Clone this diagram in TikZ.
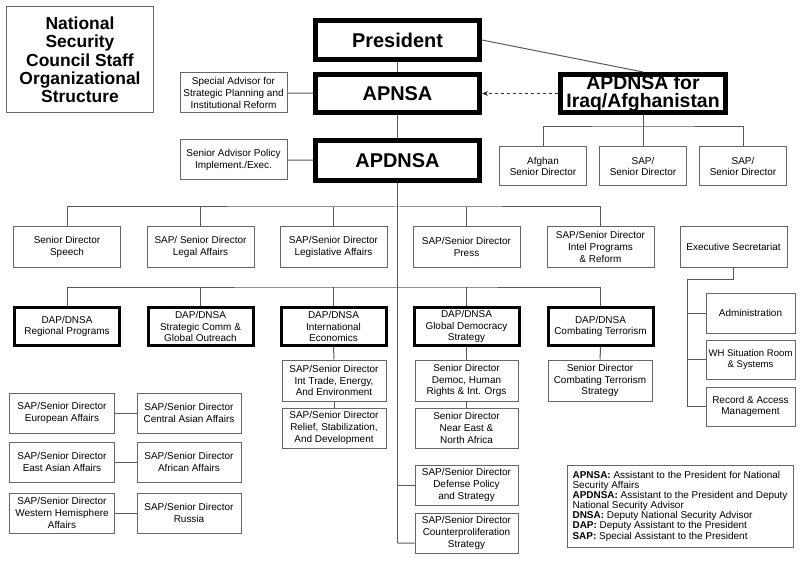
\documentclass[tikz,border=0pt]{standalone}
\usepackage{fontspec}
\setmainfont{Liberation Sans}
\usepackage{tikz}
\usetikzlibrary{arrows.meta, positioning}

\begin{document}
\begin{tikzpicture}[x=1bp, y=-1bp,
        % STYLES
        top/.style={rectangle, draw=black, line width=5bp, minimum width=164bp, minimum height=39bp, inner sep=0pt, align=center, font=\bfseries\fontsize{20}{18}\selectfont},
        dap/.style={rectangle, draw=black, line width=3bp, minimum width=105bp, minimum height=38bp, inner sep=1pt, align=center, font=\fontsize{10}{11.7}\selectfont},
        staff/.style={rectangle, draw=black!60, line width=1bp, minimum width=107bp, minimum height=40bp, inner sep=1pt, align=center, font=\fontsize{10}{11.7}\selectfont},
        % ARROWS
        link/.style={draw=black!65, line width=1bp},
        dashed_link/.style={-{Stealth[length=6bp, width=5bp]}, dashed, draw=black!80, line width=1bp}
    ]
    \useasboundingbox (0,0) rectangle (800,569);

    % ===================================
    % 1. Title and top offices
    % ===================================
    \node[staff, minimum width=146bp, minimum height=106bp, font=\bfseries\fontsize{17.5}{18.3}\selectfont] (title) at (80,60)
        {National\\Security\\Council Staff\\Organizational\\Structure};
    \node[top] (pres) at (397.5,40) {President};
    \node[top, minimum height=38bp] (apnsa) at (397.5,93.5) {APNSA};
    \node[top, minimum height=40bp] (apdnsa) at (397.5,160.5) {APDNSA};
    \node[top, minimum width=165bp, minimum height=38bp, font=\bfseries\fontsize{19.5}{19}\selectfont] (iraq) at (643,93.5) {APDNSA for\\Iraq/Afghanistan};

    % --- Advisors ---
    \node[staff] (sa1) at (233.5,93) {Special Advisor for\\Strategic Planning and\\Institutional Reform};
    \node[staff] (sa2) at (233.5,160) {Senior Advisor Policy\\Implement./Exec.};

    % --- Iraq/Afghanistan directors ---
    \node[staff, minimum width=87bp, minimum height=39bp] (ia1) at (543,166.5) {Afghan\\Senior Director};
    \node[staff, minimum width=87bp, minimum height=39bp] (ia2) at (643,166.5) {SAP/\\Senior Director};
    \node[staff, minimum width=87bp, minimum height=39bp] (ia3) at (743,166.5) {SAP/\\Senior Director};

    \draw[link] (pres) -- (apnsa);
    \draw[link] (apnsa) -- (apdnsa);
    \draw[link] (sa1) -- (apnsa);
    \draw[link] (sa2) -- (apdnsa);
    \draw[link] (pres.east) -- (iraq.north);
    \draw[dashed_link] (iraq.west) -- (apnsa.east);
    \coordinate (ibus) at (643,127);
    \draw[link] (iraq.south) -- (ia2.north);
    \draw[link] (ia1.north) |- (ibus) -| (ia3.north);

    % ===================================
    % 2. Senior directors and DAP/DNSA
    % ===================================
    \node[staff] (sd1) at (67,247) {Senior Director\\Speech};
    \node[staff] (sd2) at (200.5,247) {SAP/ Senior Director\\Legal Affairs};
    \node[staff] (sd3) at (333.5,247) {SAP/Senior Director\\Legislative Affairs};
    \node[staff] (sd4) at (466.5,247) {SAP/Senior Director\\Press};
    \node[staff] (sd5) at (600.5,247) {SAP/Senior Director\\Intel Programs\\\& Reform};

    \node[dap] (d1) at (67,326.5) {DAP/DNSA\\Regional Programs};
    \node[dap] (d2) at (200.5,326.5) {DAP/DNSA\\Strategic Comm \&\\Global Outreach};
    \node[dap] (d3) at (333.5,326.5) {DAP/DNSA\\International\\Economics};
    \node[dap] (d4) at (466.5,326.5) {DAP/DNSA\\Global Democracy\\Strategy};
    \node[dap] (d5) at (600.5,326.5) {DAP/DNSA\\Combating Terrorism};

    \coordinate (bus1) at (397.5,207);
    \coordinate (bus2) at (397.5,287);
    \coordinate (trunk) at (397.5,543);
    \draw[link] (apdnsa.south) -- (trunk);
    \draw[link] (sd1.north) |- (bus1) -| (sd5.north);
    \draw[link] (d1.north) |- (bus2) -| (d5.north);
    \foreach \n in {sd2,sd3,sd4} \draw[link] (\n.north) -- (\n.north |- bus1);
    \foreach \n in {d2,d3,d4} \draw[link] (\n.north) -- (\n.north |- bus2);

    % --- Executive Secretariat ---
    \node[staff] (es) at (733.5,247) {Executive Secretariat};
    \node[staff, minimum width=89bp] (es1) at (750.5,313) {Administration};
    \node[staff, minimum width=89bp, minimum height=39bp, inner sep=0pt, font=\fontsize{9.6}{11.7}\selectfont] (es2) at (750.5,359.5) {WH Situation Room\\\& Systems};
    \node[staff, minimum width=89bp, minimum height=39bp] (es3) at (750.5,406.5) {Record \& Access\\Management};
    \coordinate (espine) at (687,279);
    \draw[link] (es.south) |- (espine) |- (es3.west);
    \foreach \n in {es1,es2} \draw[link] (\n.west) -- (\n.west -| espine);

    % ===================================
    % 3. Directors under DAP/DNSA
    % ===================================
    \node[staff, minimum width=104bp, minimum height=41bp] (e1) at (334,380.5) {SAP/Senior Director\\Int Trade, Energy,\\And Environment};
    \node[staff, minimum width=104bp] (e2) at (334,428) {SAP/Senior Director\\Relief, Stabilization,\\And Development};
    \node[staff, minimum width=103bp, minimum height=41bp] (g1) at (466.5,380.5) {Senior Director\\Democ, Human\\Rights \& Int. Orgs};
    \node[staff, minimum width=103bp] (g2) at (466.5,428) {Senior Director\\Near East \&\\North Africa};
    \node[staff, minimum width=104bp, minimum height=41bp] (c1) at (600,380.5) {Senior Director\\Combating Terrorism\\Strategy};
    \node[staff, minimum width=103bp] (t1) at (466.5,485) {SAP/Senior Director\\Defense Policy\\and Strategy};
    \node[staff, minimum width=103bp] (t2) at (466.5,533) {SAP/Senior Director\\Counterproliferation\\Strategy};

    \draw[link] (d3) -- (e1);
    \draw[link] (e1) -- (e2);
    \draw[link] (d4) -- (g1);
    \draw[link] (g1) -- (g2);
    \draw[link] (d5) -- (c1);
    \draw[link] (t1.west) -- (t1.west -| trunk);
    \draw[link] ([yshift=-10bp]t2.west) -- (trunk);

    % --- Regional directors ---
    \node[staff, minimum width=104bp] (r1) at (62,413) {SAP/Senior Director\\European Affairs};
    \node[staff, minimum width=104bp] (r2) at (189,413) {SAP/Senior Director\\Central Asian Affairs};
    \node[staff, minimum width=104bp] (r3) at (62,462) {SAP/Senior Director\\East Asian Affairs};
    \node[staff, minimum width=104bp] (r4) at (189,462) {SAP/Senior Director\\African Affairs};
    \node[staff, minimum width=104bp] (r5) at (62,513) {SAP/Senior Director\\Western Hemisphere\\Affairs};
    \node[staff, minimum width=104bp] (r6) at (189,513) {SAP/Senior Director\\Russia};
    \draw[link] (r1) -- (r2);
    \draw[link] (r3) -- (r4);
    \draw[link] (r5) -- (r6);

    % --- Key ---
    \node[staff, minimum width=226bp, minimum height=82bp, align=left, font=\fontsize{10}{10.2}\selectfont] (key) at (680,506)
        {\textbf{APNSA:} Assistant to the President for National\\Security Affairs\\
         \textbf{APDNSA:} Assistant to the President and Deputy\\National Security Advisor\\
         \textbf{DNSA:} Deputy National Security Advisor\\
         \textbf{DAP:} Deputy Assistant to the President\\
         \textbf{SAP:} Special Assistant to the President};

\end{tikzpicture}
\end{document}
